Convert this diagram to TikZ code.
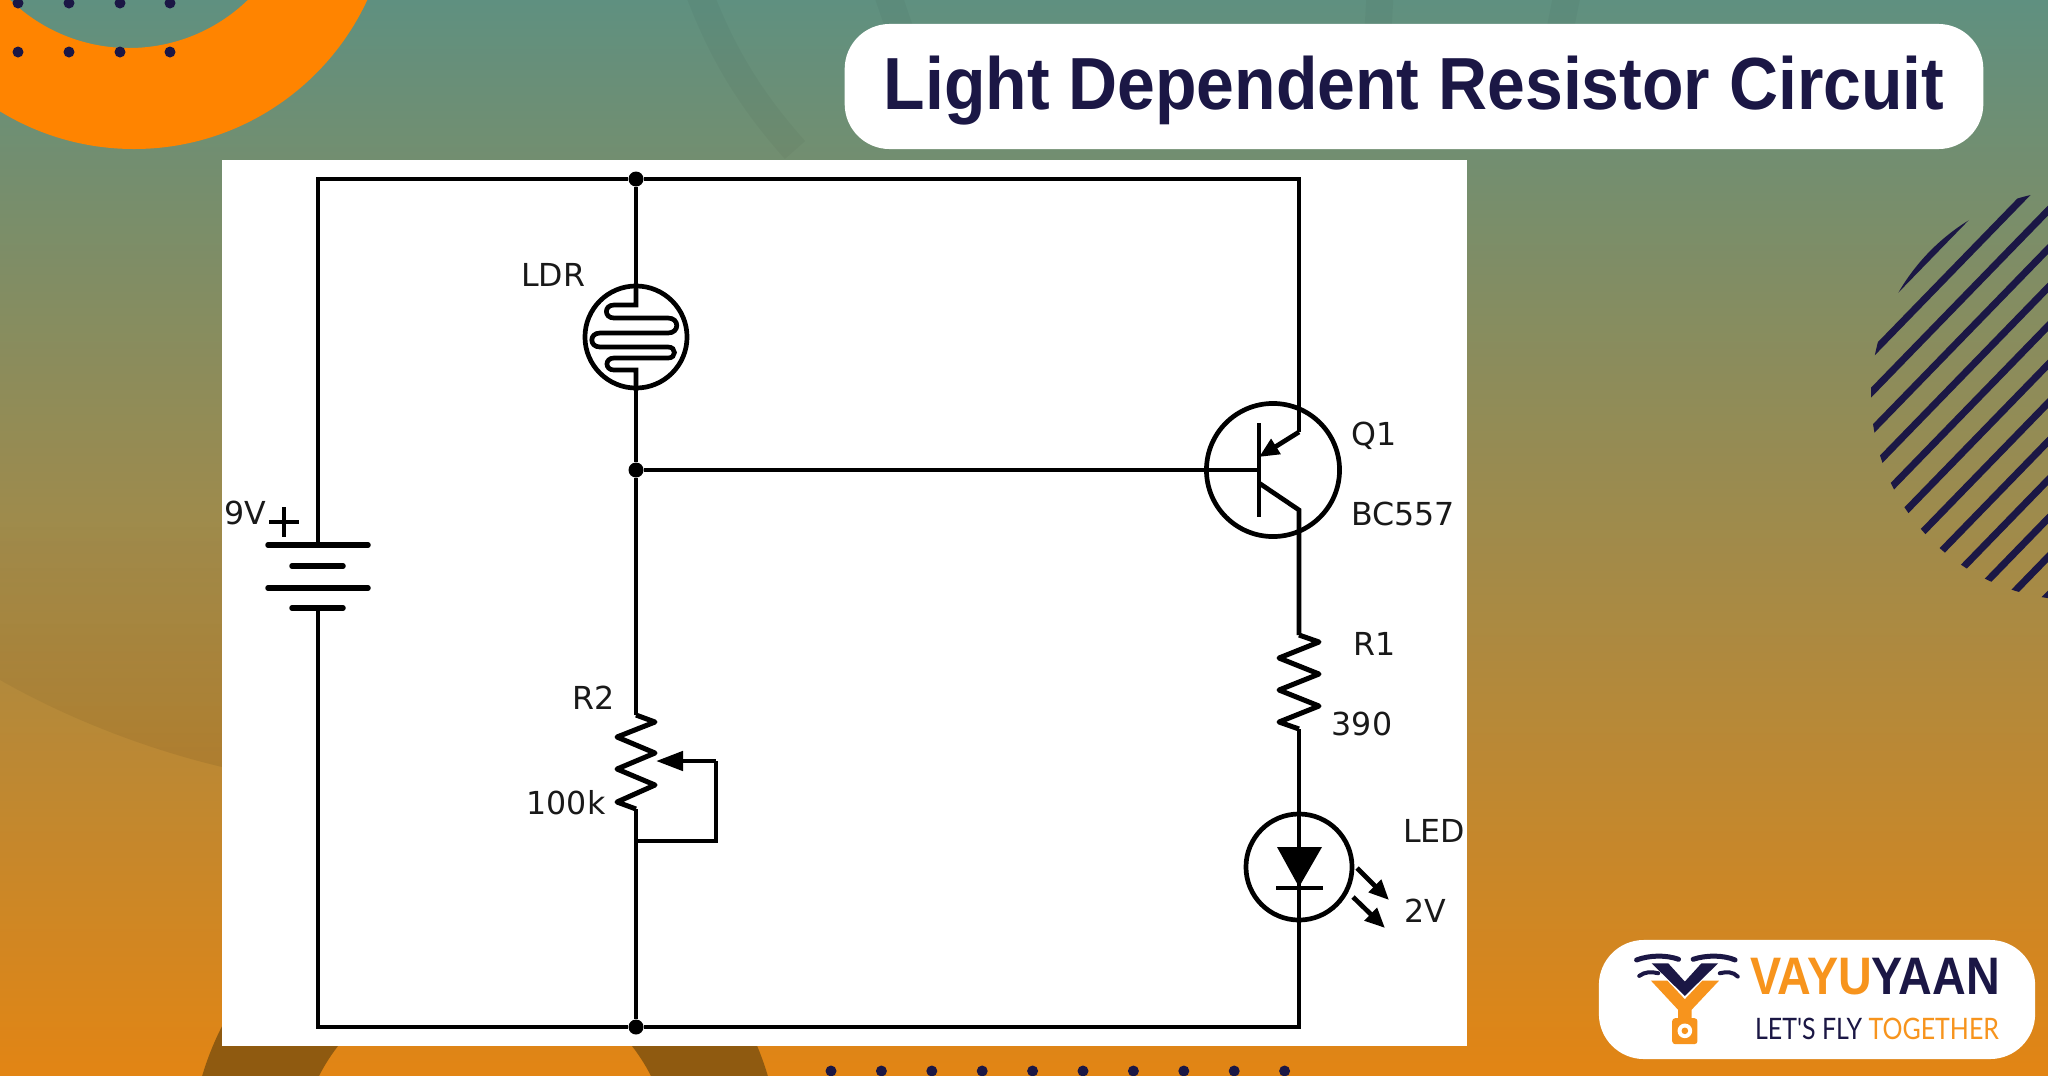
\documentclass[tikz,border=0pt]{standalone}
\usepackage{fontspec}
\usepackage{tikz}
\usetikzlibrary{arrows.meta,fadings}
\setmainfont{DejaVu Sans}
\newfontfamily\titlefont{Liberation Sans}
\newfontfamily\logofont{Lato}
\definecolor{navy}{HTML}{1B1745}
\definecolor{ringorange}{HTML}{FF8400}
\definecolor{logoorange}{HTML}{F7941D}
\definecolor{ringbrown}{HTML}{8F5A10}
\tikzset{
	wire/.style={line width=.047cm, line join=miter, black},
	zigzag/.style={line width=.05cm, line join=round, black},
	plate/.style={line width=.055cm, line cap=round, black},
	compsym/.style={draw, circle, line width=.047cm, inner sep=0pt, black},
	junction/.style={circle, fill=black, inner sep=0pt, minimum size=.15cm},
	txtlabel/.style={inner sep=0pt, font=\fontsize{9}{11}\selectfont, text=black!90},
	pill/.style={fill=white, rounded corners=.45cm, inner sep=0pt},
	navydot/.style={fill=navy},
	stripe/.style={line width=.07cm, navy},
	faintband/.style={line width=.27cm, black, opacity=.03},
	tipa/.style={-{Triangle[length=.2cm,width=.17cm]}},
	tipb/.style={-{Triangle[length=.27cm,width=.19cm]}},
}
\begin{document}
\begin{tikzpicture}[x=.01cm, y=-.01cm]
	\useasboundingbox (0,0) rectangle (2048,1075);
	\clip (0,0) rectangle (2048,1075);
	\shade [top color={rgb,255:red,95;green,144;blue,128}, middle color={rgb,255:red,163;green,142;blue,78}, bottom color={rgb,255:red,226;green,133;blue,20}] (0,0) rectangle (2048,1075);
	\fill [black, opacity=.07, path fading=north] (0,680) .. controls (70,720) and (150,750) .. (222,767) -- (222,520) -- (0,520) -- cycle;
	\draw [faintband] (700,-5) .. controls (725,60) and (755,105) .. (795,150);
	\draw [faintband] (888,-5) -- (900,30);
	\draw [faintband] (1380,-5) -- (1378,30);
	\draw [faintband] (1567,-5) -- (1560,30);
	\fill [ringorange, even odd rule] (134,-108) circle (257) (129,-123) circle (171);
	\fill [ringbrown, even odd rule] (485,1160) circle (295) (485,1160) circle (186);
	\foreach \x in {18,69,120,170} {
		\fill [navydot] (\x,3) circle (5.5);
		\fill [navydot] (\x,52) circle (5.5);
	}
	\foreach \x in {0,...,9}
		\fill [navydot] ({831+50.4*\x},1071) circle (5.5);
	\begin{scope}
		\clip (2076,395) circle (205);
		\foreach \i in {0,...,12}
			\draw [stripe] (1860,{327+38.5*\i}) -- ++(240,-247);
	\end{scope}

	\fill [white] (222,160) rectangle (1467,1046);

	\node [junction] (topj) at (636,179) {};
	\node [junction] (basej) at (636,470) {};
	\node [junction] (botj) at (636,1027) {};
	\node [compsym, minimum size=1.02cm] (ldr) at (636,337) {};
	\node [compsym, minimum size=1.33cm] (q1) at (1273,470) {};
	\node [compsym, minimum size=1.06cm] (led) at (1299,867) {};
	\coordinate (batp) at (318,545);
	\coordinate (batn) at (318,608);
	\coordinate (qb) at (1259,470);
	\coordinate (qe) at (1299,432);
	\coordinate (qetip) at (1259,457);
	\coordinate (qc) at (1299,510);
	\coordinate (qcb) at (1259,483);
	\coordinate (r1top) at (1299,635);
	\coordinate (r1bot) at (1299,729);
	\coordinate (r2top) at (636,715);
	\coordinate (r2bot) at (636,809);
	\coordinate (r2tap) at (636,841);
	\coordinate (r2wip) at (656,761);
	\coordinate (r2loop) at (716,761);

	\draw [wire] (batp) |- (topj);
	\draw [wire] (topj) -| (qe);
	\draw [wire] (batn) |- (botj);
	\draw [wire] (botj) -| (led.south);
	\draw [wire] (topj) -- (ldr.north);
	\draw [wire] (ldr.south) -- (basej);
	\draw [wire] (basej) -- (r2top);
	\draw [wire] (r2bot) -- (botj);
	\draw [wire] (basej) -- (qb);
	\draw [wire, tipa] (qe) -- (qetip);
	\draw [wire] (qcb) -- (qc) -- (r1top);
	\draw [wire] (r1bot) -- (led.south);
	\draw [wire] (r2tap) -| (r2loop);
	\draw [wire, tipb] (r2loop) -- (r2wip);
	\draw [wire] (1259,423) -- (1259,517);

	\draw [wire] (ldr.north) -- (636,305) -- (614,305) to[out=180,in=180,looseness=2] (614,318) -- (668,318) to[out=0,in=0,looseness=2] (668,333) -- (600,333) to[out=180,in=180,looseness=2] (600,347) -- (668,347) to[out=0,in=0,looseness=2] (668,358) -- (614,358) to[out=180,in=180,looseness=2] (614,370) -- (636,370) -- (ldr.south);

	\draw [zigzag] (r1top) -- ++(20,7) -- ++(-40,16) -- ++(40,16) -- ++(-40,16) -- ++(40,16) -- ++(-40,16) -- (r1bot);
	\draw [zigzag] (r2top) -- ++(19,7) -- ++(-38,15) -- ++(38,16) -- ++(-38,16) -- ++(38,16) -- ++(-38,17) -- (r2bot);

	\draw [plate] (268,545) -- (368,545);
	\draw [plate] (292,566) -- (343,566);
	\draw [plate] (268,588) -- (368,588);
	\draw [plate] (292,608) -- (343,608);
	\draw [wire] (269,522) -- (299,522);
	\draw [wire] (284,507) -- (284,537);

	\fill (1277,847) -- (1322,847) -- (1299,887) -- cycle;
	\draw [wire] (1276,888) -- (1323,888);
	\draw [wire] (led.north) -- (led.south);
	\coordinate (glowa) at (1357,868);
	\coordinate (glowaend) at (1389,900);
	\coordinate (glowb) at (1353,897);
	\coordinate (glowbend) at (1385,928);
	\draw [wire, tipa] (glowa) -- (glowaend);
	\draw [wire, tipa] (glowb) -- (glowbend);

	\node [txtlabel] (ldrname) at (553,275) {LDR};
	\node [txtlabel] (r2name) at (594,698) {R2};
	\node [txtlabel] (r2value) at (566,803) {100k};
	\node [txtlabel] (batvalue) at (245,513) {9V};
	\node [txtlabel] (q1name) at (1374,436) {Q1};
	\node [txtlabel] (q1part) at (1403,514) {BC557};
	\node [txtlabel] (r1name) at (1375,644) {R1};
	\node [txtlabel] (r1value) at (1362,724) {390};
	\node [txtlabel] (ledname) at (1434,831) {LED};
	\node [txtlabel] (ledvalue) at (1425,911) {2V};

	\node [pill, minimum width=11.38cm, minimum height=1.25cm, text=navy, text height=.6cm, text depth=.15cm, font=\titlefont\bfseries\fontsize{21}{25}\selectfont] (title) at (1414,86.5) {\scalebox{.92}[1]{Light Dependent Resistor Circuit}};

	\node [pill, minimum width=4.36cm, minimum height=1.19cm] (logo) at (1817,999.5) {};
	\node [inner sep=0pt, font=\titlefont\bfseries\fontsize{15}{18}\selectfont] (logoname) at (1875,977) {\scalebox{.885}[1]{\textcolor{logoorange}{VAYU}\textcolor{navy}{YAAN}}};
	\node [inner sep=0pt, font=\logofont\fontsize{8.4}{10}\selectfont] (logotag) at (1877,1029) {\scalebox{.845}[1]{\textcolor{navy}{LET'S FLY} \textcolor{logoorange}{TOGETHER}}};
	\begin{scope}[shift={(1580,920)}, x=.00333cm, y=-.00333cm]
		\fill [navy] (215,130) -- (265,130) -- (315,185) -- (365,130) -- (415,130) -- (315,228) -- cycle;
		\fill [logoorange] (213,182) -- (262,182) -- (315,238) -- (368,182) -- (418,182) -- (335,270) -- (335,295) -- (295,295) -- (295,270) -- cycle;
		\fill [logoorange, rounded corners=.03cm] (277,295) rectangle (353,373);
		\fill [white] (315,333) circle (22);
		\fill [logoorange] (315,333) circle (10);
		\draw [navy, line width=.05cm, line cap=round] (170,120) .. controls (210,105) and (260,105) .. (296,118);
		\draw [navy, line width=.05cm, line cap=round] (340,118) .. controls (380,105) and (430,105) .. (466,120);
		\draw [navy, line width=.04cm, line cap=round] (178,168) .. controls (195,155) and (215,155) .. (235,160);
		\draw [navy, line width=.04cm, line cap=round] (420,160) .. controls (440,155) and (460,155) .. (474,170);
	\end{scope}
\end{tikzpicture}
\end{document}
